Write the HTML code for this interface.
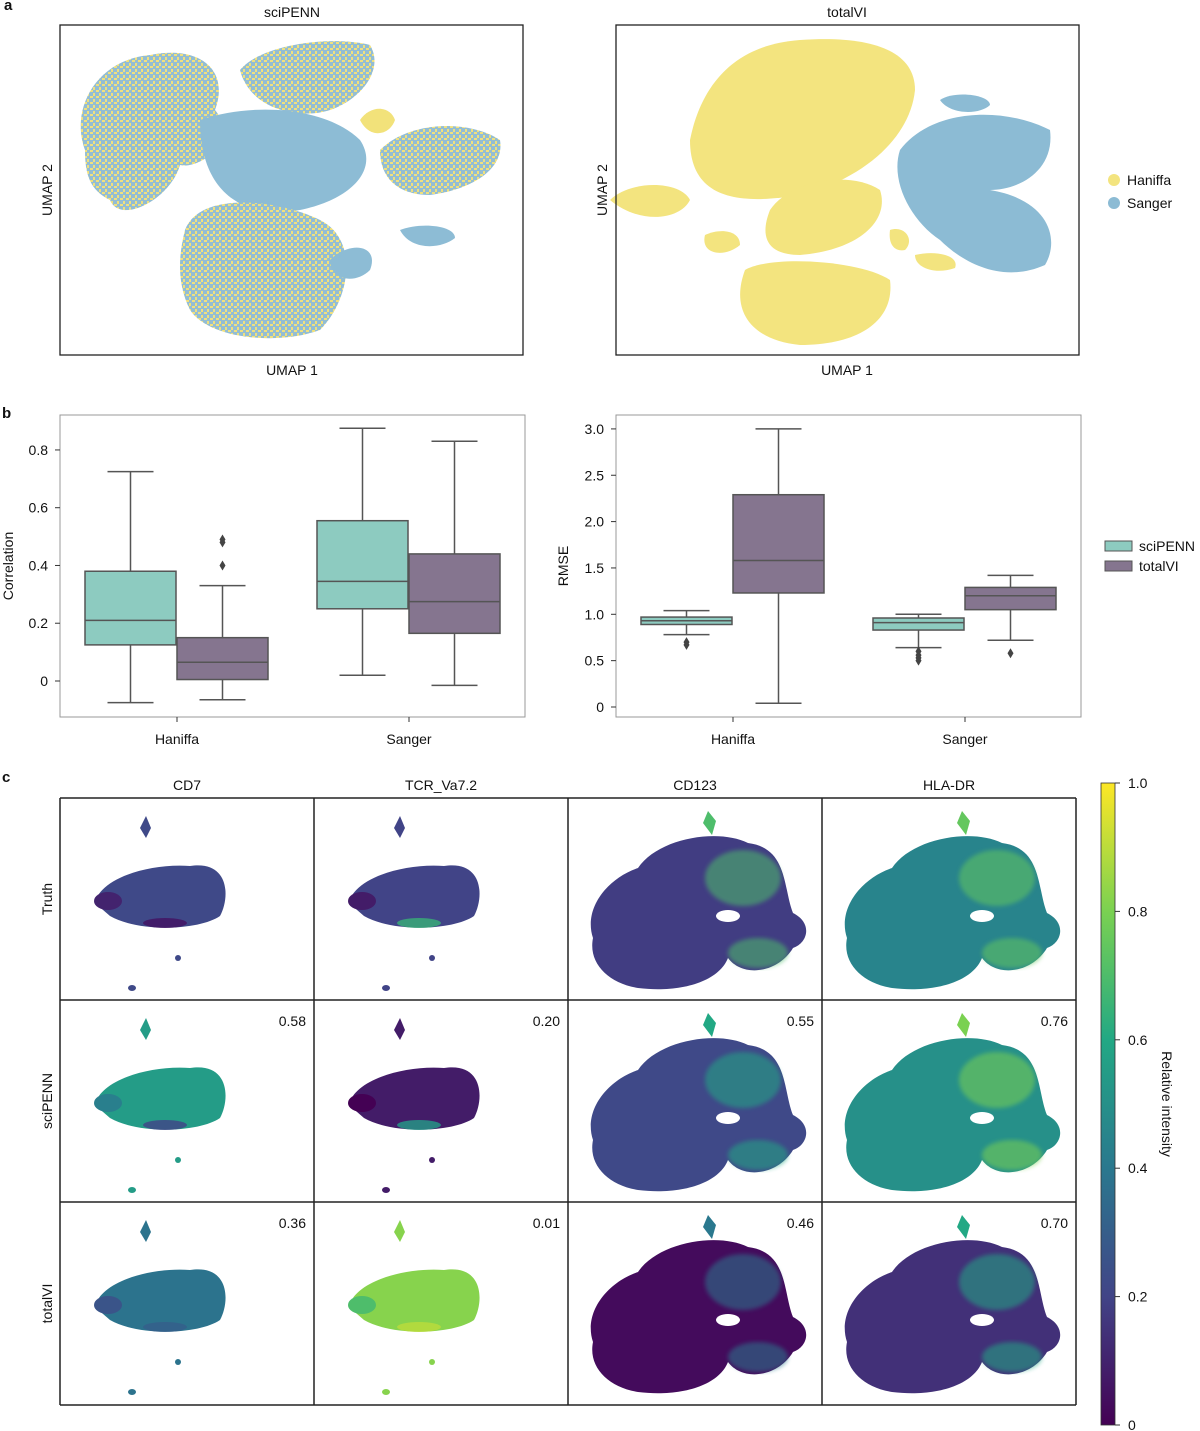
<!DOCTYPE html>
<html><head><meta charset="utf-8">
<style>
body{margin:0;background:#fff;font-family:"Liberation Sans",sans-serif;}
svg{display:block}
text{font-family:"Liberation Sans",sans-serif;fill:#111}
</style></head>
<body>
<svg id="fig" width="1200" height="1431" viewBox="0 0 1200 1431">
<defs>
<pattern id="mix" width="6" height="6" patternUnits="userSpaceOnUse">
<rect width="6" height="6" fill="#93bdd3"/>
<rect x="0" y="0" width="3" height="2" fill="#efe07e"/>
<rect x="3" y="3" width="2" height="3" fill="#efe07e"/>
</pattern>
<linearGradient id="viridis" x1="0" y1="1" x2="0" y2="0">
<stop offset="0" stop-color="#440154"/><stop offset="0.2" stop-color="#414487"/>
<stop offset="0.4" stop-color="#2a788e"/><stop offset="0.6" stop-color="#22a884"/>
<stop offset="0.8" stop-color="#7ad151"/><stop offset="1" stop-color="#fde725"/>
</linearGradient>
<filter id="soft"><feGaussianBlur stdDeviation="2"/></filter>
</defs>
<g id="root"></g>
</svg>
<script>
// ---- Panel b data ----
const categories = ['Haniffa', 'Sanger'];
const seriesNames = ['sciPENN', 'totalVI'];
// [low, q1, median, q3, high]
const corrSciPENN = [[-0.075, 0.125, 0.21, 0.38, 0.725], [0.02, 0.25, 0.345, 0.555, 0.875]];
const corrTotalVI = [[-0.065, 0.005, 0.065, 0.15, 0.33], [-0.015, 0.165, 0.275, 0.44, 0.83]];
const corrOutSciPENN = [[], []];
const corrOutTotalVI = [[0.40, 0.48, 0.49], []];
const rmseSciPENN = [[0.78, 0.89, 0.93, 0.97, 1.04], [0.64, 0.83, 0.91, 0.96, 1.0]];
const rmseTotalVI = [[0.04, 1.23, 1.58, 2.29, 3.0], [0.72, 1.05, 1.2, 1.29, 1.42]];
const rmseOutSciPENN = [[0.67, 0.70], [0.50, 0.53, 0.56, 0.60]];
const rmseOutTotalVI = [[], [0.58]];
const corrTicks = [0, 0.2, 0.4, 0.6, 0.8];
const corrTickLabels = ['0', '0.2', '0.4', '0.6', '0.8'];
const rmseTicks = [0, 0.5, 1.0, 1.5, 2.0, 2.5, 3.0];
const rmseTickLabels = ['0', '0.5', '1.0', '1.5', '2.0', '2.5', '3.0'];
// ---- Panel c data ----
const markers = ['CD7', 'TCR_Va7.2', 'CD123', 'HLA-DR'];
const methods = ['Truth', 'sciPENN', 'totalVI'];
const scores = [[null, null, null, null], [0.58, 0.20, 0.55, 0.76], [0.36, 0.01, 0.46, 0.70]];
const cellLevels = [[0.22, 0.20, 0.18, 0.45], [0.55, 0.08, 0.22, 0.50], [0.38, 0.82, 0.03, 0.14]];
const accentLevels = [[0.05, 0.65, 0.70, 0.75], [0.20, 0.55, 0.60, 0.80], [0.30, 0.90, 0.40, 0.60]];
const cbTicks = [0, 0.2, 0.4, 0.6, 0.8, 1.0];
const cbTickLabels = ['0', '0.2', '0.4', '0.6', '0.8', '1.0'];

const NS = 'http://www.w3.org/2000/svg';
const root = document.getElementById('root');
function el(tag, attrs, parent, txt) {
  const e = document.createElementNS(NS, tag);
  for (const k in attrs) e.setAttribute(k, attrs[k]);
  if (txt !== undefined) e.textContent = txt;
  (parent || root).appendChild(e);
  return e;
}
function viridis(t) {
  const s = [[68,1,84],[65,68,135],[42,120,142],[34,168,132],[122,209,81],[253,231,37]];
  t = Math.max(0, Math.min(1, t)) * 5; const i = Math.min(4, Math.floor(t)); const f = t - i;
  const c = s[i].map((v, k) => Math.round(v + (s[i + 1][k] - v) * f));
  return 'rgb(' + c.join(',') + ')';
}
function lbl(x, y, s, size, anchor, name, rot, weight) {
  const t = el('text', {x: x, y: y, 'font-size': size, 'text-anchor': anchor || 'middle', 'font-weight': weight || 'normal'}, root, s);
  if (rot) t.setAttribute('transform', 'rotate(' + rot + ' ' + x + ' ' + y + ')');
  
  
  return t;
}

// ===== Panel a =====
lbl(4, 10, 'a', 15, 'start', 'panel-label-a', 0, 'bold');
function umapA(x0, mixed, name) {
  const g = el('g', {});
  
  
  const Y = '#f2e27a', B = '#8dbcd5';
  const shapes = [
    ['M85,150 C70,110 95,60 150,55 C200,45 230,70 215,110 C240,140 200,170 180,165 C170,200 120,225 110,200 C90,190 85,175 85,150Z', mixed ? 'url(#mix)' : Y],
    ['M240,70 C260,45 330,35 370,45 C385,70 360,100 330,110 C300,120 250,110 240,70Z', mixed ? 'url(#mix)' : Y],
    ['M200,120 C260,100 330,110 360,140 C380,170 350,200 300,210 C240,220 200,190 200,120Z', mixed ? B : Y],
    ['M185,230 C200,190 280,200 320,220 C360,240 350,300 320,330 C280,345 210,340 190,310 C175,280 180,250 185,230Z', mixed ? 'url(#mix)' : Y],
    ['M380,150 C410,120 470,120 500,140 C505,170 470,190 430,195 C400,195 380,180 380,150Z', mixed ? 'url(#mix)' : B],
    ['M360,120 C370,105 390,105 395,120 C390,135 370,140 360,120Z', mixed ? Y : B],
    ['M400,230 C420,222 455,225 455,238 C440,250 410,250 400,230Z', mixed ? B : B],
    ['M330,260 C350,240 380,245 370,270 C355,285 330,280 330,260Z', mixed ? B : Y]
  ];
  shapes.forEach((s, i) => {
    const p = el('path', {d: s[0], fill: s[1], transform: 'translate(' + x0 + ',0)'}, g);
    
    
  });
}
umapA(0, true, 'scipenn-umap-points');
(function () {
  const g = el('g', {});
  
  
  const Y = '#f3e47f', B = '#8cbbd4';
  const sh = [
    ['M690,140 C700,90 730,45 800,40 C870,35 915,50 915,90 C910,140 860,180 800,195 C740,205 690,200 690,140Z', Y],
    ['M770,210 C790,180 850,170 880,190 C890,220 860,250 800,255 C765,255 760,235 770,210Z', Y],
    ['M745,270 C770,255 860,260 890,280 C895,320 860,345 800,345 C750,340 730,310 745,270Z', Y],
    ['M610,200 C630,180 680,180 690,200 C680,220 640,225 610,200Z', Y],
    ['M705,235 C720,228 740,230 740,245 C725,258 700,255 705,235Z', Y],
    ['M900,150 C930,110 1000,105 1050,130 C1055,170 1020,190 990,190 C1050,200 1060,240 1045,265 C1000,285 960,260 940,240 C910,220 890,180 900,150Z', B],
    ['M940,100 C955,90 990,95 990,105 C980,115 950,115 940,100Z', B],
    ['M890,230 C905,225 915,240 905,250 C895,252 888,245 890,230Z', Y],
    ['M915,255 C935,250 960,255 955,268 C935,275 915,268 915,255Z', Y]
  ];
  sh.forEach(s => {
    const p = el('path', {d: s[0], fill: s[1]}, g);
    
    
  });
})();
[[60, 'scipenn-umap-frame'], [616, 'totalvi-umap-frame']].forEach(f => {
  const r = el('rect', {x: f[0], y: 25, width: 463, height: 330, fill: 'none', stroke: '#222', 'stroke-width': 1.3});
  
  
});
lbl(292, 17, 'sciPENN', 14, 'middle', 'scipenn-title');
lbl(847, 17, 'totalVI', 14, 'middle', 'totalvi-title');
lbl(292, 375, 'UMAP 1', 14, 'middle', 'x-axis-title-umap1');
lbl(847, 375, 'UMAP 1', 14, 'middle', 'x-axis-title-umap1-totalvi');
lbl(52, 190, 'UMAP 2', 14, 'middle', 'y-axis-title-umap2', -90);
lbl(607, 190, 'UMAP 2', 14, 'middle', 'y-axis-title-umap2-totalvi', -90);
[['Haniffa', '#f3e47f', 180], ['Sanger', '#8cbbd4', 203]].forEach(l => {
  const c = el('circle', {cx: 1114, cy: l[2], r: 6, fill: l[1]});
  
  
  lbl(1127, l[2] + 5, l[0], 14, 'start', 'legend-entry-' + l[0].toLowerCase());
});

// ===== Panel b =====
lbl(2, 418, 'b', 15, 'start', 'panel-label-b', 0, 'bold');
const COLS = ['#8dcbc0', '#85758f'];
function boxPanel(px, pw, py, ph, yMin, yMax, ticks, tickLabels, cx, sets, outs, yTitle, name, titleX) {
  const yS = v => py + ph - (v - yMin) / (yMax - yMin) * ph;
  const fr = el('rect', {x: px, y: py, width: pw, height: ph, fill: 'none', stroke: '#999', 'stroke-width': 1});
  
  
  ticks.forEach((t, i) => {
    el('line', {x1: px - 5, x2: px, y1: yS(t), y2: yS(t), stroke: '#333'});
    lbl(px - 12, yS(t) + 5, tickLabels[i], 14, 'end', name + '-y-tick-label');
  });
  categories.forEach((c, ci) => {
    el('line', {x1: cx[ci], x2: cx[ci], y1: py + ph, y2: py + ph + 5, stroke: '#333'});
    lbl(cx[ci], py + ph + 27, c, 14, 'middle', name + '-x-tick-' + c.toLowerCase());
    sets.forEach((s, si) => {
      const d = s[ci];
      const x0 = cx[ci] - 92 + si * 92, w = 91, xm = x0 + w / 2;
      const g = el('g', {});
      
      
      el('line', {x1: xm, x2: xm, y1: yS(d[0]), y2: yS(d[1]), stroke: '#555', 'stroke-width': 1.5}, g);
      el('line', {x1: xm, x2: xm, y1: yS(d[3]), y2: yS(d[4]), stroke: '#555', 'stroke-width': 1.5}, g);
      el('line', {x1: xm - 23, x2: xm + 23, y1: yS(d[0]), y2: yS(d[0]), stroke: '#555', 'stroke-width': 1.5}, g);
      el('line', {x1: xm - 23, x2: xm + 23, y1: yS(d[4]), y2: yS(d[4]), stroke: '#555', 'stroke-width': 1.5}, g);
      el('rect', {x: x0, y: yS(d[3]), width: w, height: yS(d[1]) - yS(d[3]), fill: COLS[si], stroke: '#555', 'stroke-width': 1.5}, g);
      el('line', {x1: x0, x2: x0 + w, y1: yS(d[2]), y2: yS(d[2]), stroke: '#555', 'stroke-width': 1.5}, g);
      outs[si][ci].forEach(o => {
        const m = el('path', {d: 'M' + xm + ',' + (yS(o) - 5) + ' l3,5 l-3,5 l-3,-5Z', fill: '#444'}, g);
        
        
      });
    });
  });
  lbl(titleX, py + ph / 2, yTitle, 14, 'middle', name + '-y-axis-title', -90);
}
boxPanel(60, 465, 415, 302, -0.1247, 0.921, corrTicks, corrTickLabels, [177, 409],
  [corrSciPENN, corrTotalVI], [corrOutSciPENN, corrOutTotalVI], 'Correlation', 'correlation', 13);
boxPanel(616, 465, 415, 302, -0.108, 3.15, rmseTicks, rmseTickLabels, [733, 965],
  [rmseSciPENN, rmseTotalVI], [rmseOutSciPENN, rmseOutTotalVI], 'RMSE', 'rmse', 568);
seriesNames.forEach((s, i) => {
  const r = el('rect', {x: 1105, y: 541 + i * 20, width: 27, height: 10, fill: COLS[i], stroke: '#555'});
  
  
  lbl(1139, 551 + i * 20, s, 14, 'start', 'legend-entry-' + s.toLowerCase());
});

// ===== Panel c =====
lbl(2, 782, 'c', 15, 'start', 'panel-label-c', 0, 'bold');
const gx = [60, 314, 568, 822, 1076], gy = [798, 1000, 1202, 1405];
markers.forEach((m, j) => lbl((gx[j] + gx[j + 1]) / 2, 790, m, 14, 'middle', 'column-title-' + m.toLowerCase()));
methods.forEach((m, i) => lbl(52, (gy[i] + gy[i + 1]) / 2, m, 14, 'middle', 'row-title-' + m.toLowerCase(), -90));
methods.forEach((meth, i) => {
  markers.forEach((mk, j) => {
    const x = gx[j], y = gy[i];
    const g = el('g', {});
    
    
    const base = viridis(cellLevels[i][j]), acc = viridis(accentLevels[i][j]);
    if (j < 2) {
      el('path', {d: `M${x+35},${y+105} C${x+40},${y+80} ${x+90},${y+65} ${x+130},${y+68} C${x+170},${y+62} ${x+170},${y+100} ${x+160},${y+118} C${x+140},${y+132} ${x+80},${y+135} ${x+50},${y+118}Z`, fill: base}, g);
      el('ellipse', {cx: x + 48, cy: y + 103, rx: 14, ry: 9, fill: viridis(cellLevels[i][j] - 0.12)}, g);
      el('ellipse', {cx: x + 105, cy: y + 125, rx: 22, ry: 5, fill: acc, opacity: 0.8}, g);
      el('path', {d: `M${x+80},${y+30} l6,-12 l5,12 l-5,10Z`, fill: base}, g);
      el('ellipse', {cx: x + 72, cy: y + 190, rx: 4, ry: 3, fill: base}, g);
      el('ellipse', {cx: x + 118, cy: y + 160, rx: 3, ry: 3, fill: base}, g);
    } else {
      el('path', {d: `M${x+25},${y+140} C${x+15},${y+110} ${x+40},${y+80} ${x+70},${y+70} C${x+90},${y+40} ${x+150},${y+30} ${x+180},${y+45} C${x+220},${y+50} ${x+215},${y+90} ${x+225},${y+115} C${x+245},${y+125} ${x+240},${y+145} ${x+225},${y+150} C${x+210},${y+175} ${x+175},${y+180} ${x+160},${y+160} C${x+150},${y+185} ${x+110},${y+195} ${x+70},${y+190} C${x+40},${y+185} ${x+20},${y+165} ${x+25},${y+140}Z`, fill: base}, g);
      el('ellipse', {cx: x + 175, cy: y + 80, rx: 38, ry: 28, fill: acc, opacity: 0.55, filter: 'url(#soft)'}, g);
      el('ellipse', {cx: x + 190, cy: y + 155, rx: 30, ry: 15, fill: acc, opacity: 0.55, filter: 'url(#soft)'}, g);
      el('path', {d: `M${x+135},${y+25} l5,-12 l8,10 l-4,14Z`, fill: acc}, g);
      el('ellipse', {cx: x + 160, cy: y + 118, rx: 12, ry: 6, fill: '#fff'}, g);
    }
    if (scores[i][j] !== null) lbl(x + 246, y + 26, scores[i][j].toFixed(2), 14, 'end', 'score-' + meth.toLowerCase() + '-' + mk.toLowerCase());
  });
});
gx.forEach(x => el('line', {x1: x, x2: x, y1: 798, y2: 1405, stroke: '#222', 'stroke-width': 1.5}));
gy.forEach(y => el('line', {x1: 60, x2: 1076, y1: y, y2: y, stroke: '#222', 'stroke-width': 1.5}));
const cb = el('rect', {x: 1101, y: 783, width: 14, height: 642, fill: 'url(#viridis)', stroke: '#333', 'stroke-width': 0.8});


cbTicks.forEach((t, i) => {
  const yy = 1425 - t * 642;
  el('line', {x1: 1115, x2: 1120, y1: yy, y2: yy, stroke: '#333'});
  lbl(1128, yy + 5, cbTickLabels[i], 14, 'start', 'colorbar-tick-label');
});
lbl(1162, 1104, 'Relative intensity', 14, 'middle', 'colorbar-title', 90);
</script>
</body></html>
